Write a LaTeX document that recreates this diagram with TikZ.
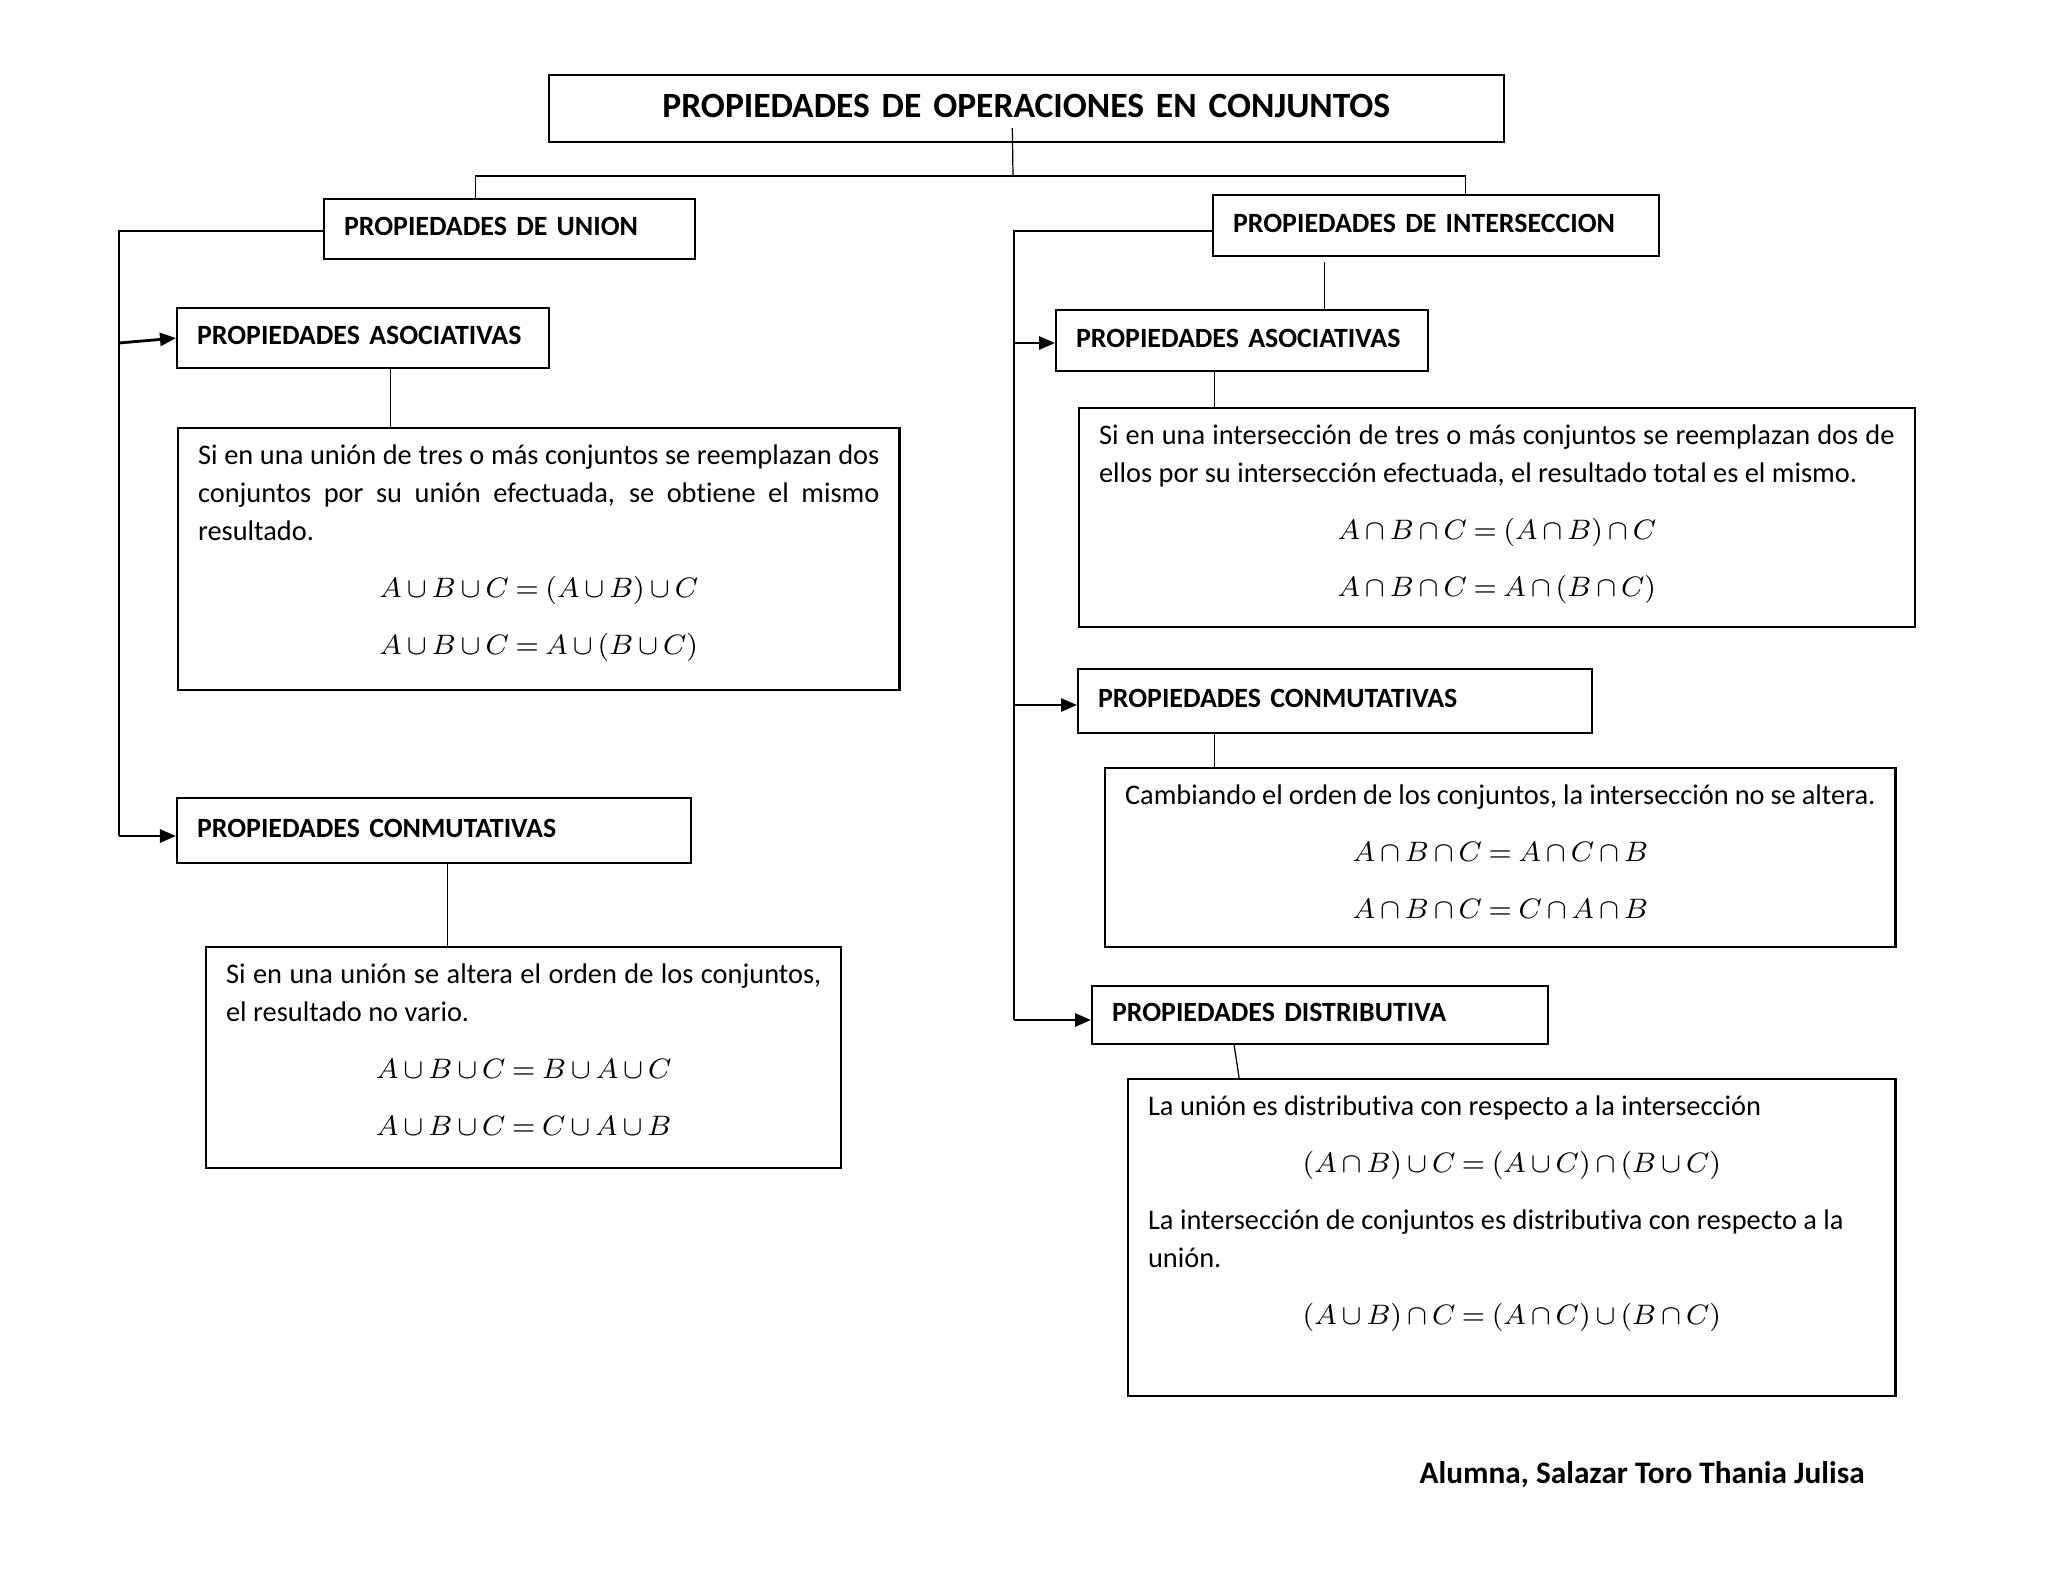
\documentclass[tikz,border=0pt]{standalone}
\usepackage{fontspec}
\setmainfont{Carlito}[Ligatures=CommonOff]
\usetikzlibrary{arrows.meta}
\newcommand{\cuerpo}{\fontsize{8.07}{10.8}\selectfont}
\newcommand{\encabezado}{\fontsize{7.93}{10.8}\selectfont\bfseries}
\newcommand{\titular}{\fontsize{10.1}{12.5}\selectfont\bfseries}
\newcommand{\formula}[1]{\par\vskip0.19cm\centerline{$\medmuskip=3mu\thickmuskip=4mu #1$}}
\tikzstyle{cajatit}=[draw=black,line width=0.6pt,anchor=north west,align=left,
  inner xsep=0.2cm,inner ysep=0pt,text depth=0.05cm,font=\encabezado]
\tikzstyle{cajatxt}=[draw=black,line width=0.6pt,anchor=north west,
  inner xsep=0.2cm,inner ysep=0.1cm,font=\cuerpo]
\tikzstyle{linea}=[line width=0.35pt]
\tikzstyle{flecha}=[line width=0.8pt,-{Triangle[length=0.16cm,width=0.13cm]}]

\begin{document}
\begin{tikzpicture}[x=0.01cm,y=-0.01cm]
    \fill[white] (0,0) rectangle (2048,1582);
    % encabezados
    \node[cajatit,font=\titular,align=center,text width=9.14cm,minimum height=0.67cm] (titulo) at (548,74) {PROPIEDADES DE OPERACIONES EN CONJUNTOS};
    \node[cajatit,text width=3.31cm,minimum height=0.60cm] (union) at (323,198) {PROPIEDADES DE UNION};
    \node[cajatit,text width=4.06cm,minimum height=0.61cm] (inter) at (1212,194) {PROPIEDADES DE INTERSECCION};
    \node[cajatit,text width=3.32cm,minimum height=0.60cm] (uasoc) at (176,307) {PROPIEDADES ASOCIATIVAS};
    \node[cajatit,text width=4.74cm,minimum height=0.65cm] (uconm) at (176,797) {PROPIEDADES CONMUTATIVAS};
    \node[cajatit,text width=3.32cm,minimum height=0.61cm] (iasoc) at (1055,309) {PROPIEDADES ASOCIATIVAS};
    \node[cajatit,text width=4.74cm,minimum height=0.64cm] (iconm) at (1077,668) {PROPIEDADES CONMUTATIVAS};
    \node[cajatit,text width=4.16cm,minimum height=0.58cm] (idist) at (1091,985) {PROPIEDADES DISTRIBUTIVA};
    % textos
    \node[cajatxt] (utxt1) at (177,427) {\parbox[t][2.42cm][t]{6.81cm}{\strut Si en una unión de tres o más conjuntos se reemplazan dos\linebreak conjuntos por su unión efectuada, se obtiene el mismo\linebreak resultado.%
      \formula{A\cup B\cup C=(A\cup B)\cup C}%
      \formula{A\cup B\cup C=A\cup(B\cup C)}}};
    \node[cajatxt] (utxt2) at (205,946) {\parbox[t][2.01cm][t]{5.95cm}{\strut Si en una unión se altera el orden de los conjuntos,\linebreak el resultado no vario.%
      \formula{A\cup B\cup C=B\cup A\cup C}%
      \formula{A\cup B\cup C=C\cup A\cup B}}};
    \node[cajatxt] (itxt1) at (1078,407) {\parbox[t][1.99cm][t]{7.95cm}{\strut Si en una intersección de tres o más conjuntos se reemplazan dos de\linebreak ellos por su intersección efectuada, el resultado total es el mismo.%
      \formula{A\cap B\cap C=(A\cap B)\cap C}%
      \formula{A\cap B\cap C=A\cap(B\cap C)}}};
    \node[cajatxt] (itxt2) at (1104,767) {\parbox[t][1.59cm][t]{7.50cm}{\strut Cambiando el orden de los conjuntos, la intersección no se altera.%
      \formula{A\cap B\cap C=A\cap C\cap B}%
      \formula{A\cap B\cap C=C\cap A\cap B}}};
    \node[cajatxt] (itxt3) at (1127,1078) {\parbox[t][2.97cm][t]{7.27cm}{\strut La unión es distributiva con respecto a la intersección%
      \formula{(A\cap B)\cup C=(A\cup C)\cap(B\cup C)}%
      \par\vskip0.19cm La intersección de conjuntos es distributiva con respecto a la\newline unión.%
      \formula{(A\cup B)\cap C=(A\cap C)\cup(B\cap C)}}};
    \node[font=\fontsize{8.9}{10}\selectfont\bfseries,anchor=base west,inner sep=0pt] (firma) at (1419,1483) {Alumna, Salazar Toro Thania Julisa};
    % conexiones superiores
    \coordinate (barra) at (1013,176);
    \draw[linea] ([xshift=-0.14cm,yshift=0.15cm]titulo.south) -- (barra);
    \draw[linea] ([xshift=-0.345cm]union.north) |- (barra) -| ([xshift=0.29cm]inter.north);
    % rama de la union
    \coordinate (ejeU) at (119,231);
    \coordinate (pU1) at (119,343);
    \coordinate (pU2) at (119,836);
    \draw[linea] (union.west |- ejeU) -- (ejeU) -- (pU2);
    \draw[flecha] (pU1) -- (uasoc.west);
    \draw[flecha] (pU2) -- (pU2 -| uconm.west);
    \draw[linea] ([xshift=0.27cm]uasoc.south) coordinate (a1) -- (a1 |- utxt1.north);
    \draw[linea] ([xshift=0.13cm]uconm.south) coordinate (a2) -- (a2 |- utxt2.north);
    % rama de la interseccion
    \coordinate (ejeI) at (1014,231);
    \coordinate (pI1) at (1014,343);
    \coordinate (pI2) at (1014,705);
    \coordinate (pI3) at (1014,1020);
    \draw[linea] (inter.west |- ejeI) -- (ejeI) -- (pI3);
    \draw[flecha] (pI1) -- (pI1 -| iasoc.west);
    \draw[flecha] (pI2) -- (pI2 -| iconm.west);
    \draw[flecha] (pI3) -- (pI3 -| idist.west);
    \draw[linea] ([xshift=-1.12cm,yshift=-0.05cm]inter.south) coordinate (b0) -- (b0 |- iasoc.north);
    \draw[linea] ([xshift=-0.28cm]iasoc.south) coordinate (b1) -- (b1 |- itxt1.north);
    \draw[linea] ([xshift=-1.21cm]iconm.south) coordinate (b2) -- (b2 |- itxt2.north);
    \draw[linea] ([xshift=-0.86cm]idist.south) -- ([xshift=-2.725cm]itxt3.north);
\end{tikzpicture}
\end{document}
